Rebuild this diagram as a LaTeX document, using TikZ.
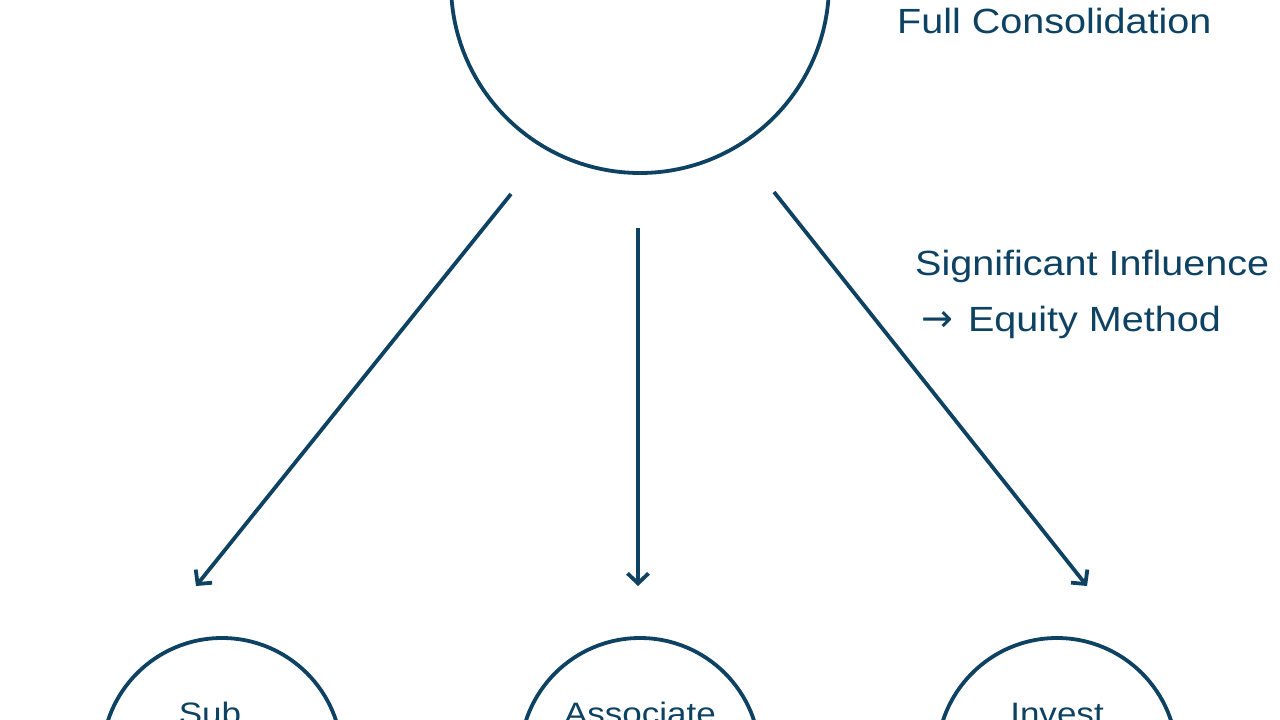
\documentclass[tikz,border=0pt]{standalone}
\usepackage{fontspec}
\setmainfont{Liberation Sans}
\newfontfamily\labfont[FakeStretch=1.13]{Liberation Sans}
\newfontfamily\symfont{DejaVu Sans}
\usetikzlibrary{arrows.meta}
\definecolor{ink}{RGB}{14,66,99}
\tikzset{
  entity/.style={circle, draw=ink, line width=3.8pt, inner sep=0pt, minimum size=#1, text=ink},
  link/.style={draw=ink, line width=3.8pt, -{Straight Barb[length=10pt,width=21pt,line width=3.8pt]}},
  note/.style={anchor=base west, text=ink, inner sep=0pt, font=\labfont\fontsize{35}{42}\selectfont},
  inner/.style={text=ink, font=\labfont\fontsize{31}{37}\selectfont}
}
\begin{document}
\begin{tikzpicture}[x=1pt,y=-1pt]
\useasboundingbox (0,0) rectangle (1280,720);
\begin{scope}
\clip (0,0) rectangle (1280,720);
\node[entity=378pt] (parent) at (640,-16) {};
\node[entity=240pt] (sub) at (222,758) {};
\node[entity=240pt] (assoc) at (640,758) {};
\node[entity=240pt] (invest) at (1057,758) {};
\node[inner, anchor=base] (subt) at (210,724) {Sub};
\node[inner, anchor=base] (assoct) at (640,724) {Associate};
\node[inner, anchor=base] (investt) at (1057,724) {Invest};
\end{scope}
\node[note] (full) at (897,33) {Full Consolidation};
\node[note] (sig) at (915,275) {Significant Influence};
\node[note] (eq) at (921,331) {{\symfont\fontsize{38}{42}\selectfont →}\hspace{15pt}Equity Method};
\coordinate (l1) at (511,194);
\coordinate (l2) at (196,586);
\coordinate (m1) at (638,228);
\coordinate (m2) at (638,586);
\coordinate (r1) at (774,192);
\coordinate (r2) at (1087,586);
\draw[link] (l1) -- (l2);
\draw[link] (m1) -- (m2);
\draw[link] (r1) -- (r2);
\end{tikzpicture}
\end{document}
